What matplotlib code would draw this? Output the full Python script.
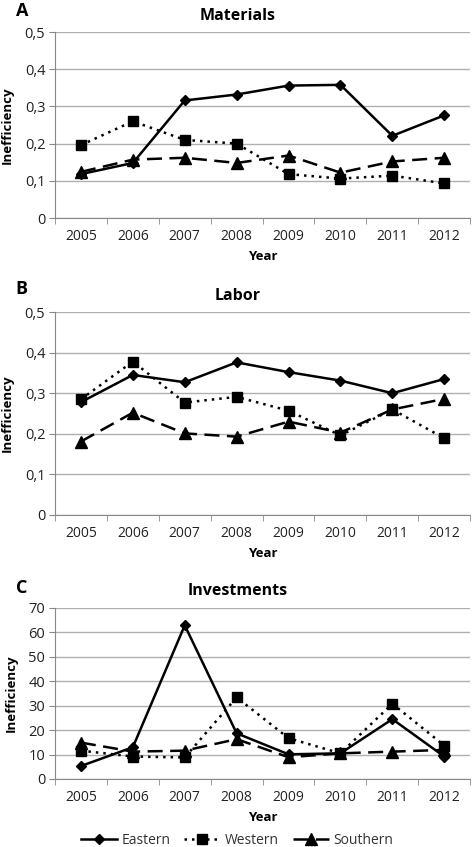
import numpy as np
import matplotlib.pyplot as plt
from matplotlib.ticker import FixedLocator, FuncFormatter
from matplotlib.lines import Line2D

plt.rcParams['font.family'] = ['Open Sans', 'DejaVu Sans']

years = ['2005', '2006', '2007', '2008', '2009', '2010', '2011', '2012']
regions = ['Eastern', 'Western', 'Southern']

materials_eastern = [0.118, 0.148, 0.316, 0.332, 0.356, 0.358, 0.221, 0.276]
materials_western = [0.196, 0.260, 0.210, 0.200, 0.118, 0.106, 0.114, 0.093]
materials_southern = [0.124, 0.157, 0.162, 0.148, 0.168, 0.122, 0.152, 0.162]

labor_eastern = [0.278, 0.345, 0.327, 0.376, 0.352, 0.331, 0.300, 0.335]
labor_western = [0.285, 0.378, 0.277, 0.291, 0.257, 0.196, 0.260, 0.189]
labor_southern = [0.181, 0.252, 0.201, 0.193, 0.230, 0.203, 0.260, 0.286]

invest_eastern = [5.3, 13.0, 62.9, 18.7, 10.1, 10.5, 24.5, 9.2]
invest_western = [11.6, 9.2, 8.8, 33.4, 16.7, 10.5, 30.8, 13.7]
invest_southern = [14.9, 11.2, 11.6, 16.3, 8.9, 10.5, 11.2, 11.9]

styles = {
    'Eastern': dict(linestyle='-', marker='D', markersize=5.5, linewidth=1.8),
    'Western': dict(linestyle=(0, (1, 2)), marker='s', markersize=7.5, linewidth=1.8),
    'Southern': dict(linestyle=(0, (6, 3)), marker='^', markersize=8, linewidth=1.8),
}

fig = plt.figure(figsize=(4.74, 8.47), dpi=100)

panels = [
    ('A', 'Materials', [materials_eastern, materials_western, materials_southern],
     [0.116, 0.7426, 0.876, 0.2196], np.arange(0, 0.51, 0.1), 0.5,
     lambda v, p: ('%.1f' % v).replace('.', ',') if v > 0 else '0'),
    ('B', 'Labor', [labor_eastern, labor_western, labor_southern],
     [0.116, 0.392, 0.876, 0.2396], np.arange(0, 0.51, 0.1), 0.5,
     lambda v, p: ('%.1f' % v).replace('.', ',') if v > 0 else '0'),
    ('C', 'Investments', [invest_eastern, invest_western, invest_southern],
     [0.116, 0.0803, 0.876, 0.2019], np.arange(0, 71, 10), 70,
     lambda v, p: '%d' % v),
]

x = np.arange(len(years))
for letter, title, series, rect, yticks, ymax, fmt in panels:
    ax = fig.add_axes(rect)
    for name, vals in zip(regions, series):
        ax.plot(x, vals, color='black', **styles[name], zorder=3)
    ax.set_xlim(-0.5, len(years) - 0.5)
    ax.set_ylim(0, ymax)
    ax.set_yticks(yticks)
    ax.yaxis.set_major_formatter(FuncFormatter(fmt))
    ax.set_xticks(x)
    ax.set_xticklabels(years)
    ax.xaxis.set_minor_locator(FixedLocator(np.arange(-0.5, len(years), 1.0)))
    ax.tick_params(axis='x', which='major', length=0, labelsize=10, pad=8,
                   labelcolor='#222222')
    ax.tick_params(axis='x', which='minor', length=4, color='#888888')
    ax.tick_params(axis='y', length=4, color='#888888', labelsize=10.5, pad=3,
                   labelcolor='#222222')
    ax.grid(axis='y', color='#b0b0b0', linewidth=1)
    ax.set_axisbelow(True)
    for s in ['top', 'right']:
        ax.spines[s].set_visible(False)
    for s in ['left', 'bottom']:
        ax.spines[s].set_color('#888888')
    ax.set_title(title, fontsize=11.5, fontweight='bold', pad=9, x=0.44)
    ax.set_xlabel('Year', fontsize=9.5, fontweight='bold', labelpad=4)
    ax.set_ylabel('Inefficiency', fontsize=9.5, fontweight='bold', labelpad=8)
    ax.text(-0.095, 1.115, letter, transform=ax.transAxes, fontsize=13,
            fontweight='bold', va='center', ha='left')

handles = [Line2D([0], [0], color='black', **styles[n]) for n in regions]
fig.legend(handles, regions, loc='center', bbox_to_anchor=(0.5, 0.008),
           ncol=3, frameon=False, fontsize=10, handlelength=2.6,
           columnspacing=1.0, handletextpad=0.3, labelcolor='#333333')

fig.savefig('out.png', dpi=100)
